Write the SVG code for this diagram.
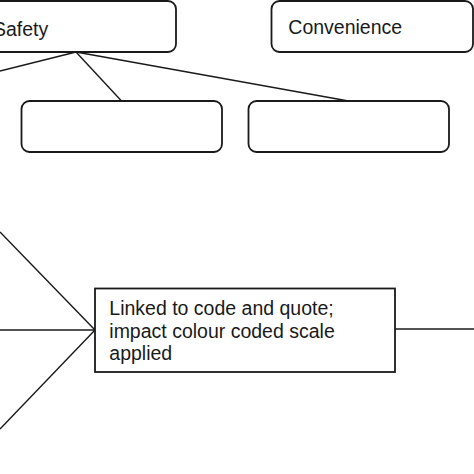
<svg xmlns="http://www.w3.org/2000/svg" width="474" height="474" viewBox="0 0 474 474">
<style>
.box{fill:#fff;stroke:#1a1a1a;stroke-width:1.8}
.ln{fill:none;stroke:#1a1a1a;stroke-width:1.4}
text{font-family:"Liberation Sans",Arial,sans-serif;font-size:19.5px;fill:#1a1a1a}
</style>
<rect width="474" height="474" fill="#fff"/>
<g id="connectors">
<line class="ln" x1="76" y1="52" x2="0" y2="71"/>
<line class="ln" x1="76" y1="52" x2="121.5" y2="101"/>
<line class="ln" x1="76" y1="52" x2="348.5" y2="101"/>
<line class="ln" x1="0" y1="232" x2="95" y2="330"/>
<line class="ln" x1="0" y1="330" x2="95" y2="330"/>
<line class="ln" x1="0" y1="429" x2="95" y2="330"/>
<line class="ln" x1="395" y1="329" x2="474" y2="329"/>
</g>
<g id="safety">
<rect class="box" x="-20" y="1" width="196" height="51" rx="8"/>
<text x="-7" y="35.5">Safety</text>
</g>
<g id="convenience">
<rect class="box" x="271.5" y="1" width="201.5" height="51" rx="8"/>
<text x="288.3" y="33.5">Convenience</text>
</g>
<g id="box-left">
<rect class="box" x="21.5" y="101" width="200.5" height="51" rx="8"/>
</g>
<g id="box-right">
<rect class="box" x="248.5" y="101" width="200.5" height="51" rx="8"/>
</g>
<g id="linked">
<rect class="box" x="95" y="288.5" width="300" height="83.5"/>
<text x="109.3" y="315">Linked to code and quote;</text>
<text x="109.3" y="337.5">impact colour coded scale</text>
<text x="109.3" y="360">applied</text>
</g>
</svg>
